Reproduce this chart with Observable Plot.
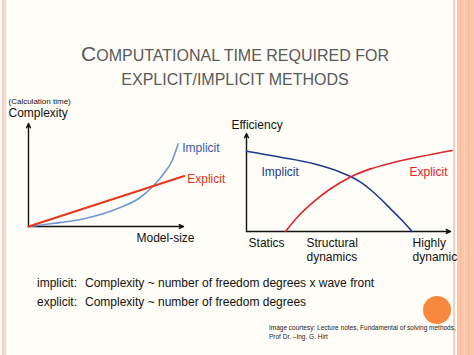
<!DOCTYPE html>
<html>
<head>
<meta charset="utf-8">
<script src="https://cdn.jsdelivr.net/npm/d3@7"></script>
<script src="https://cdn.jsdelivr.net/npm/@observablehq/plot@0.6"></script>
<style>
  html, body { margin: 0; padding: 0; background: #fffdf7; }
  #slide { position: relative; width: 474px; height: 355px; overflow: hidden; background: #fffdf7;
           font-family: "Liberation Sans", Arial, sans-serif; }
  .abs { position: absolute; }
  .title { left: 0; width: 470px; text-align: center; color: #595959; white-space: nowrap; line-height: 20px; }
  .body { left: 37px; font-size: 12px; line-height: 14px; color: #111; white-space: nowrap; }
  .body .lab { display: inline-block; width: 48px; }
  .cap { left: 269px; font-size: 6.5px; line-height: 8.5px; color: #222; white-space: nowrap; }
  svg { overflow: visible; }
</style>
</head>
<body>
<div id="slide">
  <div class="abs" style="left:2px;top:0;width:4px;height:355px;background:#f8cfc2"></div>
  <div class="abs" style="left:3.5px;top:0;width:1px;height:355px;background:#fbe2d8"></div>
  <div class="abs" style="left:453px;top:0;width:2px;height:355px;background:#f9cfc0"></div>
  <div class="abs" style="left:457px;top:0;width:17px;height:355px;background:#fcc6ac"></div>
  <div class="abs" style="left:460px;top:0;width:1px;height:355px;background:#f9b897"></div>
  <div class="abs" style="left:464px;top:0;width:1px;height:355px;background:#fdd3bf"></div>
  <div class="abs" style="left:468px;top:0;width:1px;height:355px;background:#f9b897"></div>
  <div class="abs title" id="t1" style="top:44px;font-size:16px"></div>
  <div class="abs title" id="t2" style="top:70px;font-size:16px"></div>
  <div class="abs" id="left" style="left:0;top:95px"></div>
  <div class="abs" id="right" style="left:225px;top:110px"></div>
  <div class="abs body" id="b1" style="top:276px"></div>
  <div class="abs body" id="b2" style="top:295px"></div>
  <div class="abs" style="left:423px;top:296px;width:28px;height:28px;border-radius:50%;background:#f7883e"></div>
  <div class="abs cap" id="c1" style="top:324px"></div>
  <div class="abs cap" id="c2" style="top:332.5px"></div>
</div>
<script>
// ---- text content ----
const titleLine1 = "COMPUTATIONAL TIME REQUIRED FOR";
const titleLine2 = "EXPLICIT/IMPLICIT METHODS";
const bodyLines = [
  ["implicit:", "Complexity ~ number of freedom degrees x wave front"],
  ["explicit:", "Complexity ~ number of freedom degrees"]
];
const captionLines = [
  "Image courtesy: Lecture notes, Fundamental of solving methods,",
  "Prof Dr. \u2013Ing. G. Hirt"
];

// ---- left chart: complexity vs model-size ----
const leftSeries = ["Implicit", "Explicit"];
const leftImplicitX = [0, 1.42, 3.57, 5.72, 7.23, 8.08, 8.72, 9.27, 9.66];
const leftImplicitY = [0, 0.26, 0.75, 1.72, 2.84, 3.98, 5.12, 6.41, 8.03];
const leftExplicitX = [0, 10.05];
const leftExplicitY = [0, 4.9];
const leftXLabel = "Model-size";
const leftYLabel = "Complexity";
const leftYSubLabel = "(Calculation time)";

// ---- right chart: efficiency vs problem type ----
const rightImplicitX = [0, 1.67, 3.30, 4.61, 5.10, 5.59, 6.08, 6.57, 7.06, 7.55, 8.12];
const rightImplicitY = [8.19, 7.58, 6.91, 6.05, 5.61, 5.03, 4.26, 3.34, 2.32, 1.30, 0];
const rightExplicitX = [1.91, 2.49, 3.30, 4.12, 5.10, 6.08, 7.06, 8.53, 10.08];
const rightExplicitY = [0, 1.46, 3.05, 4.36, 5.57, 6.39, 6.97, 7.65, 8.27];
const rightCategories = ["Statics", "Structural\ndynamics", "Highly\ndynamic"];
const rightCategoryX = [0.1, 2.94, 8.14];
const rightYLabel = "Efficiency";

const axisDomain = [0, 10];

// ---- HTML text ----
document.getElementById("t1").innerHTML =
  '<span style="font-size:21px">' + titleLine1[0] + '</span>' + titleLine1.slice(1);
document.getElementById("t2").textContent = titleLine2;
["b1", "b2"].forEach((id, i) => {
  const el = document.getElementById(id);
  const a = document.createElement("span"); a.className = "lab"; a.textContent = bodyLines[i][0];
  el.appendChild(a); el.appendChild(document.createTextNode(bodyLines[i][1]));
});
document.getElementById("c1").textContent = captionLines[0];
document.getElementById("c2").textContent = captionLines[1];

const zip = (xs, ys) => xs.map((x, i) => ({x, y: ys[i]}));
const font = "Liberation Sans, Arial, sans-serif";

// ---- left chart ----
const leftImp = zip(leftImplicitX, leftImplicitY);
const leftExp = zip(leftExplicitX, leftExplicitY);
const axesL = [{x1: axisDomain[0], y1: axisDomain[0], x2: axisDomain[0], y2: axisDomain[1]},
               {x1: axisDomain[0], y1: axisDomain[0], x2: axisDomain[1], y2: axisDomain[0]}];
const leftPlot = Plot.plot({
  width: 235, height: 155,
  marginLeft: 28, marginRight: 52, marginTop: 28, marginBottom: 24,
  style: {fontFamily: font, background: "transparent", overflow: "visible"},
  x: {domain: axisDomain, axis: null},
  y: {domain: axisDomain, axis: null},
  marks: [
    Plot.arrow(axesL, {x1: "x1", y1: "y1", x2: "x2", y2: "y2", stroke: "#111", strokeWidth: 1.4, headLength: 5, headAngle: 50}),
    Plot.line(leftImp, {x: "x", y: "y", curve: "monotone-x", stroke: "#7096d6", strokeWidth: 1.6}),
    Plot.line(leftExp, {x: "x", y: "y", stroke: "#e5361c", strokeWidth: 2}),
    Plot.text(leftImp, Plot.selectLast({x: "x", y: "y", text: () => leftSeries[0], fill: "#3a59a8", fontSize: 12, textAnchor: "start", dx: 4, dy: 4})),
    Plot.text(leftExp, Plot.selectLast({x: "x", y: "y", text: () => leftSeries[1], fill: "#e5361c", fontSize: 12, textAnchor: "start", dx: 3, dy: 3})),
    Plot.text([leftXLabel], {text: d => d, frameAnchor: "bottom-right", textAnchor: "end", lineAnchor: "middle", dx: 11, dy: 12, fontSize: 12, fill: "#111"}),
    Plot.text([leftYLabel], {text: d => d, frameAnchor: "top-left", textAnchor: "start", lineAnchor: "middle", dx: -20, dy: -10, fontSize: 12, fill: "#111"}),
    Plot.text([leftYSubLabel], {text: d => d, frameAnchor: "top-left", textAnchor: "start", lineAnchor: "middle", dx: -20, dy: -22, fontSize: 8, fill: "#111"})
  ]
});
document.getElementById("left").appendChild(leftPlot);

// ---- right chart ----
const rightImp = zip(rightImplicitX, rightImplicitY);
const rightExp = zip(rightExplicitX, rightExplicitY);
const rightPlot = Plot.plot({
  width: 240, height: 160,
  marginLeft: 21, marginRight: 15, marginTop: 23, marginBottom: 39,
  style: {fontFamily: font, background: "transparent", overflow: "visible"},
  x: {domain: axisDomain, axis: null},
  y: {domain: axisDomain, axis: null},
  marks: [
    Plot.arrow(axesL, {x1: "x1", y1: "y1", x2: "x2", y2: "y2", stroke: "#111", strokeWidth: 1.4, headLength: 5, headAngle: 50}),
    Plot.line(rightImp, {x: "x", y: "y", curve: "monotone-x", stroke: "#1d3a8e", strokeWidth: 1.6}),
    Plot.line(rightExp, {x: "x", y: "y", curve: "monotone-x", stroke: "#e0222c", strokeWidth: 1.6}),
    Plot.text([leftSeries[0]], {text: d => d, frameAnchor: "left", textAnchor: "start", dx: 15, dy: -10, fontSize: 12, fill: "#1d3a8e"}),
    Plot.text([leftSeries[1]], {text: d => d, frameAnchor: "right", textAnchor: "end", dx: -3, dy: -10, fontSize: 12, fill: "#e0222c"}),
    Plot.axisX({ticks: rightCategoryX, tickFormat: (d, i) => rightCategories[i], tickSize: 0, tickPadding: 6,
                textAnchor: "start", lineAnchor: "top", fontSize: 12, lineHeight: 1.15, fill: "#111", label: null}),
    Plot.text([rightYLabel], {text: d => d, frameAnchor: "top-left", textAnchor: "start", lineAnchor: "middle", dx: -15, dy: -8, fontSize: 12, fill: "#111"})
  ]
});
document.getElementById("right").appendChild(rightPlot);
</script>
</body>
</html>
